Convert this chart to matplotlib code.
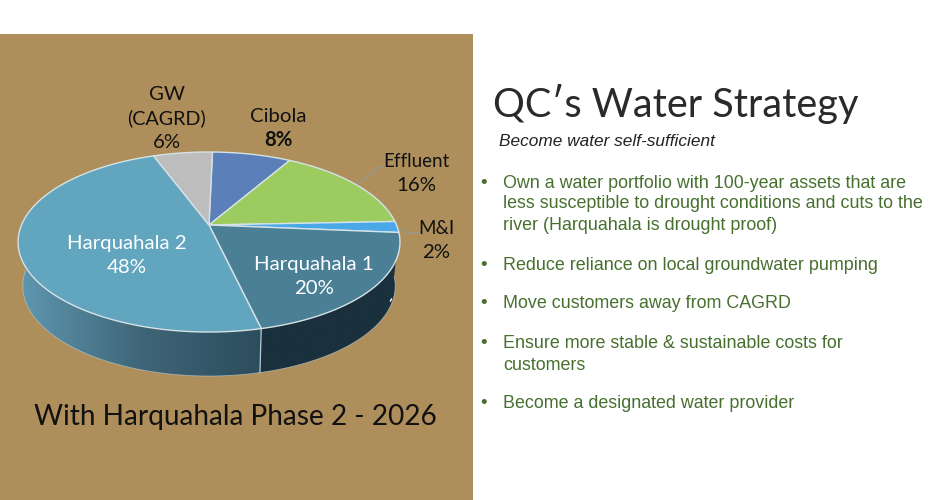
import numpy as np
import matplotlib
matplotlib.use("Agg")
import matplotlib.pyplot as plt
from matplotlib.patches import Polygon, Rectangle
from matplotlib.colors import LinearSegmentedColormap

categories = ["Cibola", "Effluent", "M&I", "Harquahala 1", "Harquahala 2", "GW (CAGRD)"]
shares = [8, 16, 2, 20, 48, 6]
top_colors = ["#5b7fb8", "#9ccc60", "#4aa8e8", "#4a7f96", "#62a5bf", "#bdbdbd"]

title = "QC\u2032s Water Strategy"
subtitle = "Become water self-sufficient"
caption = "With Harquahala Phase 2 - 2026"
bullets = [
    ["Own a water portfolio with 100-year assets that are",
     "less susceptible to drought conditions and cuts to the",
     "river (Harquahala is drought proof)"],
    ["Reduce reliance on local groundwater pumping"],
    ["Move customers away from CAGRD"],
    ["Ensure more stable & sustainable costs for", "customers"],
    ["Become a designated water provider"],
]
bullet_y = [[183, 204, 226], [265], [304], [344, 365], [404]]

PANEL = "#ae8f5b"
GREEN = "#47702f"
EDGE = "#d5e2e6"
CX, CY, RX, RY, K = 209, 225, 187.5, 86.8, 0.189
DEPTH, SHRINK = 44, 0.975
ROT = 0.0035

fig = plt.figure(figsize=(9.37, 5.0), dpi=100, facecolor="white")
ax = fig.add_axes([0, 0, 1, 1])
ax.set_xlim(0, 937)
ax.set_ylim(500, 0)
ax.axis("off")
ax.add_patch(Rectangle((0, 34), 473, 466, facecolor=PANEL, edgecolor="none", zorder=0))


def rim(fraction_start, fraction_end):
    """Project an arc of the unit pie through the slide's perspective."""
    n = max(2, int(abs(fraction_end - fraction_start) * 300))
    t = (np.linspace(fraction_start, fraction_end, n) + ROT) * 2 * np.pi
    u, v = np.sin(t), np.cos(t)
    d = 1 + K * v
    return CX + RX * u / d, CY - RY * v / d


def lower(x, y):
    return CX + SHRINK * (x - CX), y + DEPTH


cum = np.concatenate([[0], np.cumsum(shares)]) / sum(shares)

# visible side walls: Harquahala 1 (right) and Harquahala 2 (left)
side_maps = {
    3: ["#1a303d", "#1a303d"],
    4: ["#2c4d5d", "#3f6678", "#5f98b1"],
}
for idx, clrs in side_maps.items():
    a, b = cum[idx], cum[idx + 1]
    x, y = rim(a, b)
    keep = y > 226
    x, y = x[keep], y[keep]
    xl, yl = lower(x, y)
    pts = np.r_[np.c_[x, y], np.c_[xl, yl][::-1]]
    poly = Polygon(pts, closed=True, facecolor="none", edgecolor="none", zorder=1)
    ax.add_patch(poly)
    cmap = LinearSegmentedColormap.from_list("side", clrs)
    im = ax.imshow(np.linspace(0, 1, 256)[None, :],
                   extent=(pts[:, 0].max(), pts[:, 0].min(), pts[:, 1].max(), pts[:, 1].min()),
                   cmap=cmap, aspect="auto", zorder=1)
    im.set_clip_path(poly)
    ax.plot(xl, yl, color="#c4d3d8", lw=0.6, alpha=0.6, zorder=2)

ax.set_xlim(0, 937)
ax.set_ylim(500, 0)

# seam between the two walls
x0, y0 = rim(cum[4], cum[4])
xl0, yl0 = lower(x0, y0)
ax.plot([x0[0], xl0[0]], [y0[0], yl0[0]], color="#b9cdd4", lw=0.9, zorder=3)

# top faces
for i, c in enumerate(top_colors):
    x, y = rim(cum[i], cum[i + 1])
    pts = np.r_[[[CX, CY]], np.c_[x, y]]
    ax.add_patch(Polygon(pts, closed=True, facecolor=c, edgecolor=EDGE, lw=1.0, joinstyle="round", zorder=4))

# leader lines and the small white fleck on the wall
ax.plot([358, 380, 384], [184, 167, 167], color="#8f9a9e", lw=0.8, zorder=5)
ax.plot([400, 408, 420], [229, 233, 233], color="#8f9a9e", lw=0.8, zorder=5)
ax.plot([390.5, 391.5], [301, 299], color="white", lw=1.0, zorder=5)

LF = ["Lato", "DejaVu Sans"]
def lab(x, y, s, color="#111111", size=14.7, **kw):
    ax.text(x, y + 1.5, s, ha="center", va="center", color=color, fontsize=size, family=LF, zorder=6, **kw)

lab(167, 93, "GW"); lab(167, 117, "(CAGRD)", size=14.2); lab(167, 141, "6%")
lab(278, 115, "Cibola"); lab(278, 139, "8%", fontweight="bold")
lab(416, 160, "Effluent", size=13.5); lab(416, 184, "16%")
lab(436, 227, "M&I", size=13.5); lab(436, 251, "2%")
lab(127, 242, "Harquahala 2", color="white"); lab(127, 266, "48%", color="white")
lab(314, 263, "Harquahala 1", color="white"); lab(314, 287, "20%", color="white")

ax.text(235, 417, caption, ha="center", va="center", fontsize=20.2, color="#111111", family=LF, zorder=6)
ax.text(493, 104, title, ha="left", va="center", fontsize=28.6, color="#2a2a2a", family=LF, zorder=6)
ax.text(499, 141, subtitle, ha="left", va="center", fontsize=12.4, color="#222222", fontstyle="italic",
        family="Liberation Sans", zorder=6)

for lines, ys in zip(bullets, bullet_y):
    ax.text(484, ys[0], "\u2022", ha="center", va="center", fontsize=13.5, color=GREEN, family=["Liberation Sans"])
    for s, yy in zip(lines, ys):
        ax.text(503, yy, s, ha="left", va="center", fontsize=12.9, color=GREEN, family=["Liberation Sans"])

fig.savefig("out.png", dpi=100, facecolor="white")
